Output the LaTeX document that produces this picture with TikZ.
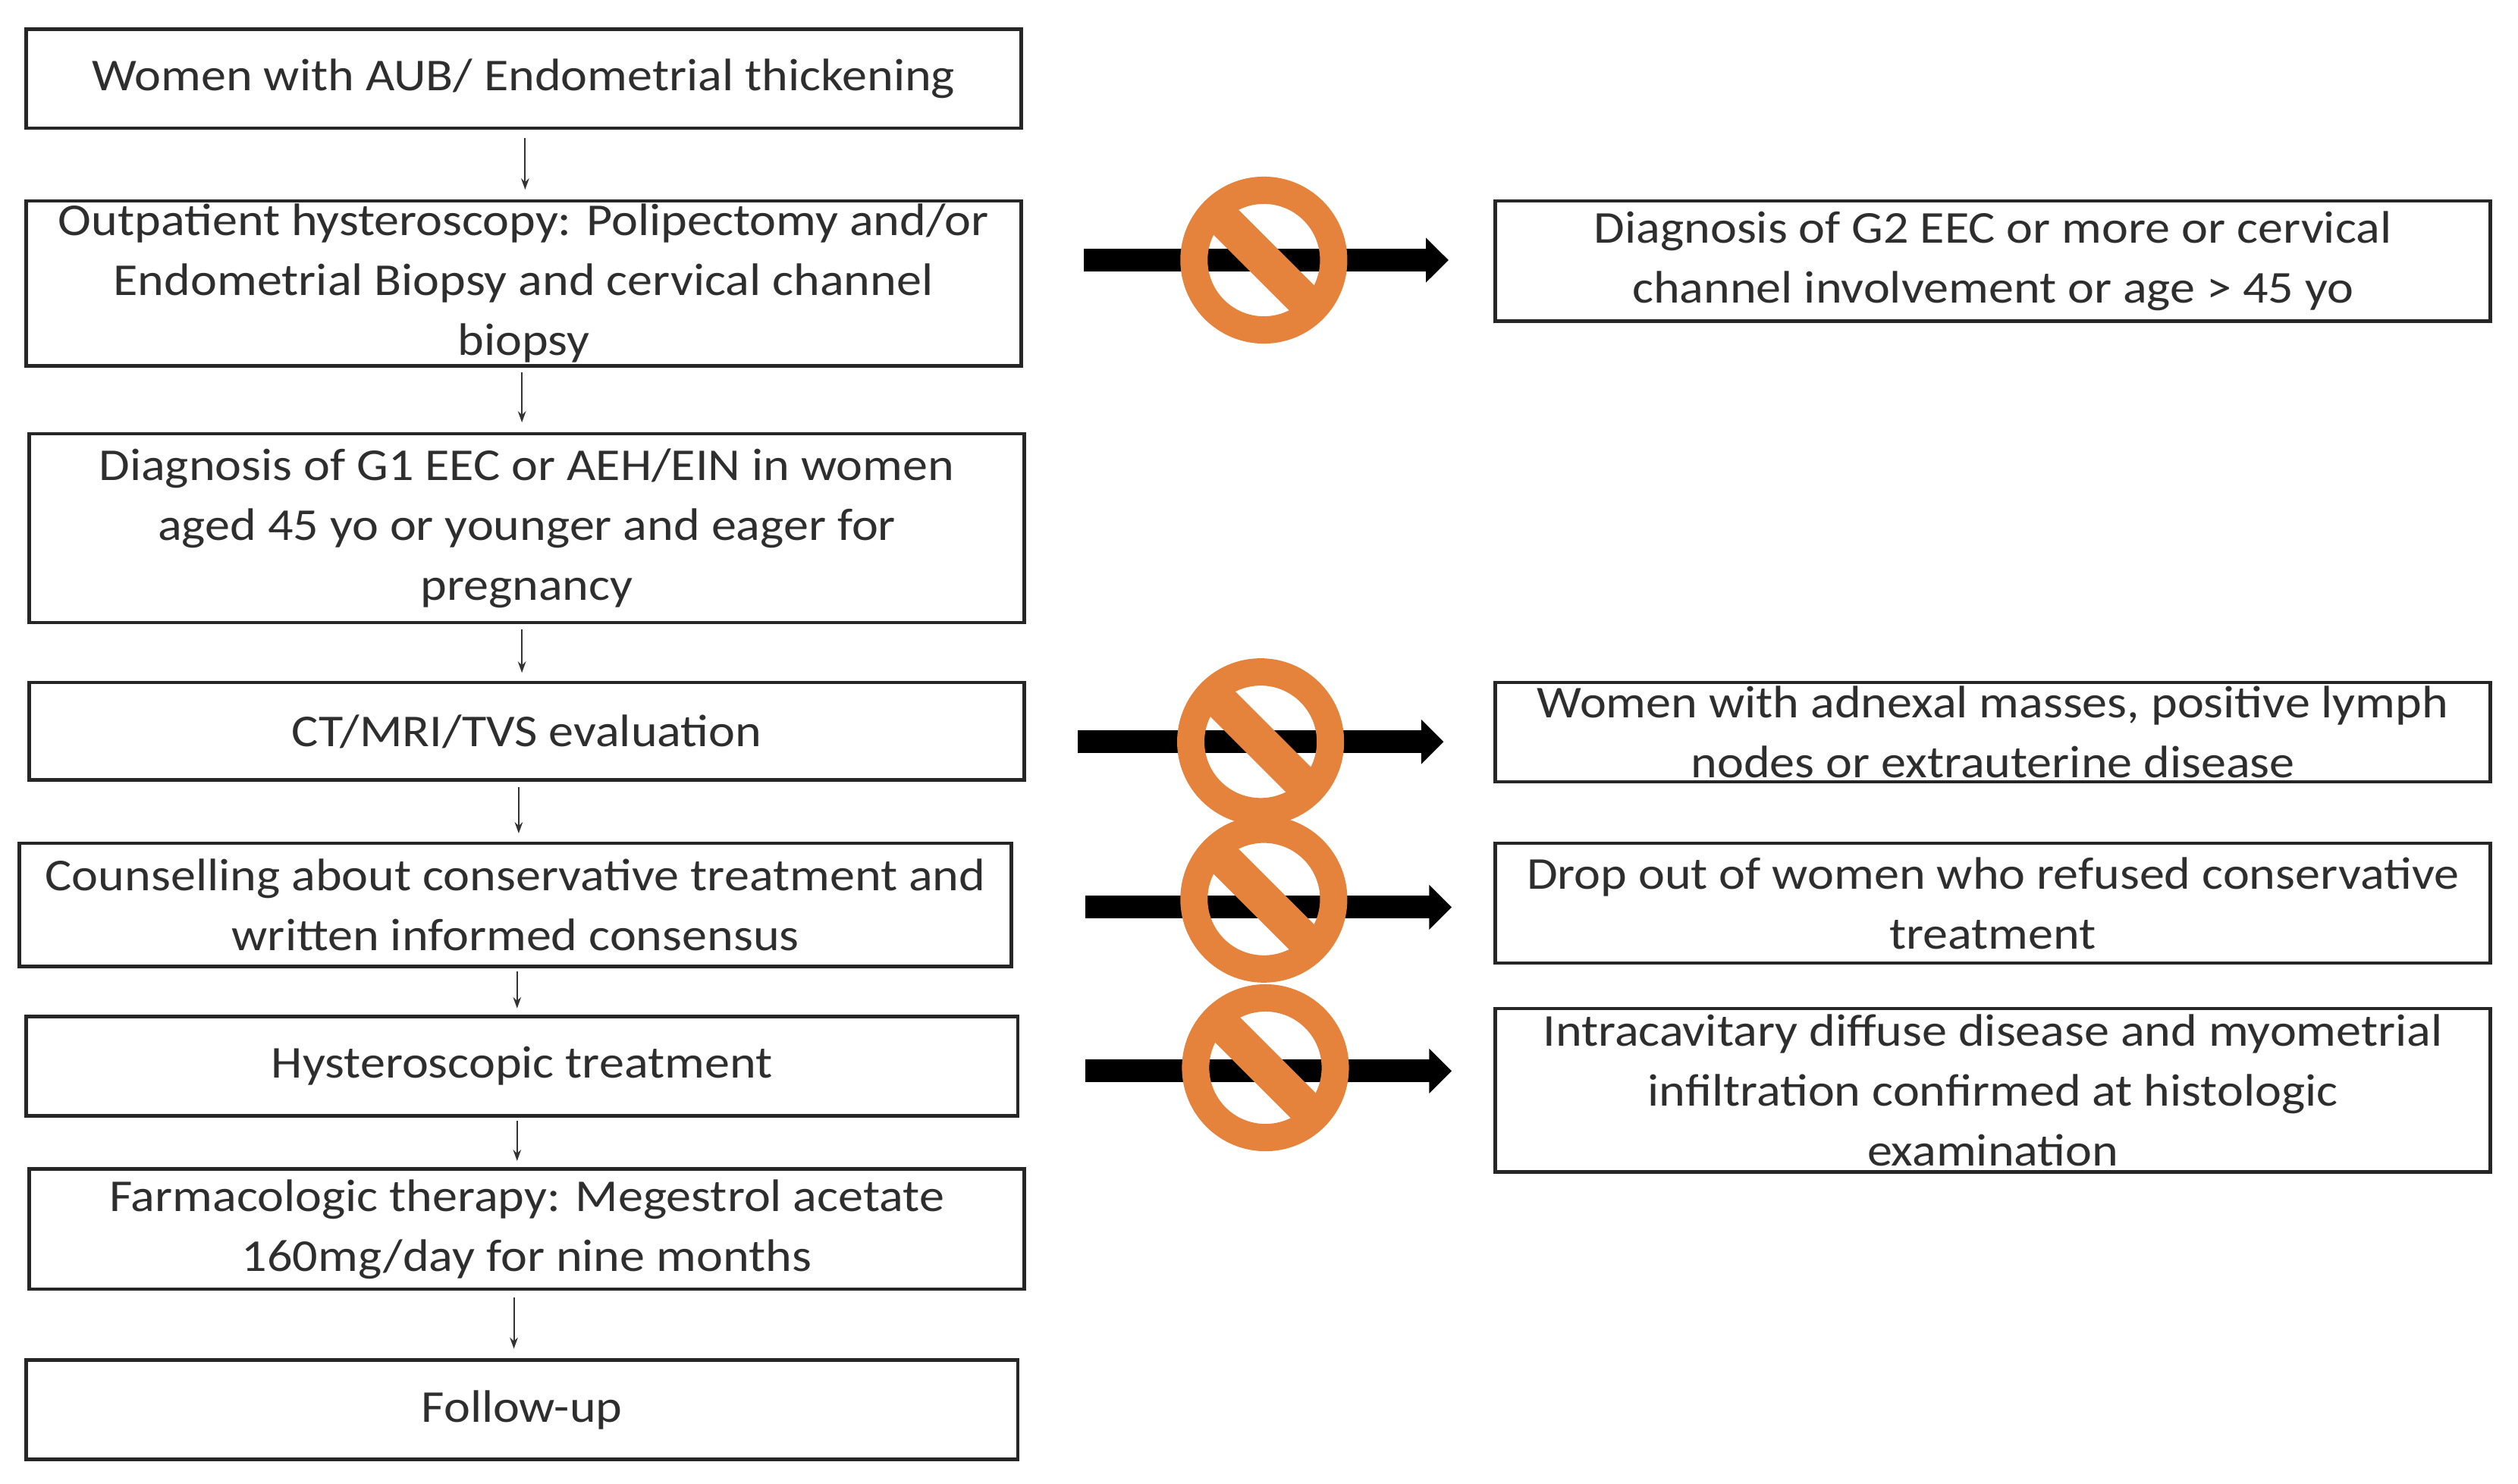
\documentclass[tikz,border=0pt]{standalone}
\usepackage{fontspec}
\setmainfont{Carlito}[FakeStretch=1.1]
\usetikzlibrary{arrows.meta,calc}
\definecolor{org}{HTML}{E5823C}
\definecolor{txt}{HTML}{2E2E2E}
\tikzset{
  box/.style={draw=black!85, line width=2.2bp, inner sep=0pt, align=center, text=txt,
    font=\fontsize{28.5}{37.5}\selectfont},
  small/.style={-{Stealth[length=7bp,width=5bp]}, line width=1bp, black!80},
  big/.style={-{Triangle[length=14bp,width=27bp]}, line width=14bp, black},
}
\newcommand{\boxat}[6]{\node[box, minimum width=#4-#2, minimum height=#5-#3] (#1) at ({(#2+#4)/2},{(#3+#5)/2}) {#6};}
\newcommand{\nosign}[1]{%
  \draw[org, line width=17bp] (#1) circle (43.5);
  \draw[org, line width=22bp] ($(#1)+(-27,-27)$) -- ($(#1)+(27,27)$);}
\begin{document}
\begin{tikzpicture}[x=1bp,y=-1bp]
\useasboundingbox (0,0) rectangle (1568,924);
\boxat{a}{15}{18}{637}{80}{Women with AUB/ Endometrial thickening}
\boxat{b}{15}{125}{637}{228}{Outpatient hysteroscopy: Polipectomy and/or\\Endometrial Biopsy and cervical channel\\biopsy}
\boxat{c}{17}{270}{639}{388}{Diagnosis of G1 EEC or AEH/EIN in women\\aged 45 yo or younger and eager for\\pregnancy}
\boxat{d}{17}{425}{639}{486}{CT/MRI/TVS evaluation}
\boxat{e}{11}{525}{631}{602}{Counselling about conservative treatment and\\written informed consensus}
\boxat{f}{15}{633}{635}{695}{Hysteroscopic treatment}
\boxat{g}{17}{728}{639}{803}{Farmacologic therapy: Megestrol acetate\\160mg/day for nine months}
\boxat{h}{15}{847}{635}{909}{Follow-up}
\boxat{r1}{930}{125}{1552}{200}{Diagnosis of G2 EEC or more or cervical\\channel involvement or age > 45 yo}
\boxat{r2}{930}{425}{1552}{487}{Women with adnexal masses, positive lymph\\nodes or extrauterine disease}
\boxat{r3}{930}{525}{1552}{600}{Drop out of women who refused conservative\\treatment}
\boxat{r4}{930}{628}{1552}{730}{Intracavitary diffuse disease and myometrial\\infiltration confirmed at histologic\\examination}
\draw[small] (327,86) coordinate (s1) -- ($(s1 |- b.north)+(0,-6)$);
\draw[small] (325,232) coordinate (s2) -- ($(s2 |- c.north)+(0,-6)$);
\draw[small] (325,392) coordinate (s3) -- ($(s3 |- d.north)+(0,-5)$);
\draw[small] (323,490) coordinate (s4) -- ($(s4 |- e.north)+(0,-5)$);
\draw[small] (322,605) coordinate (s5) -- ($(s5 |- f.north)+(0,-4)$);
\draw[small] (322,698) coordinate (s6) -- ($(s6 |- g.north)+(0,-4)$);
\draw[small] (320,808) coordinate (s7) -- ($(s7 |- h.north)+(0,-6)$);
\coordinate (p1) at (675,162); \coordinate (q1) at (902,162);
\coordinate (p2) at (671,462); \coordinate (q2) at (899,462);
\coordinate (p3) at (676,565); \coordinate (q3) at (904,565);
\coordinate (p4) at (676,667); \coordinate (q4) at (904,667);
\draw[big] (p1) -- (q1); \draw[big] (p2) -- (q2); \draw[big] (p3) -- (q3); \draw[big] (p4) -- (q4);
\coordinate (n1) at (787,162); \coordinate (n2) at (785,462);
\coordinate (n3) at (787,560); \coordinate (n4) at (788,665);
\nosign{n1}\nosign{n2}\nosign{n3}\nosign{n4}
\end{tikzpicture}
\end{document}
